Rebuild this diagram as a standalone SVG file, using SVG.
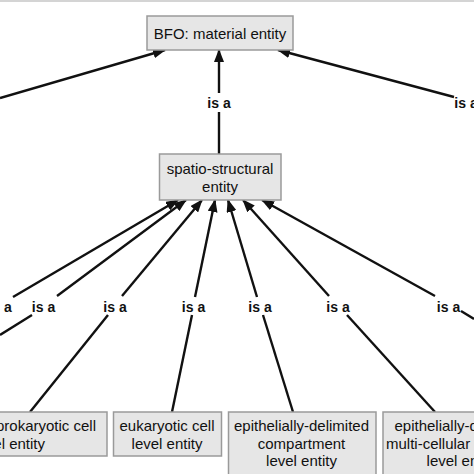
<svg xmlns="http://www.w3.org/2000/svg" width="474" height="474" viewBox="0 0 474 474">
<style>
.box{fill:#e6e6e6;stroke:#9a9a9a;stroke-width:1.5}
.t{font-family:"Liberation Sans",Arial,sans-serif;font-size:15px;fill:#111}
.lbl{font-family:"Liberation Sans",Arial,sans-serif;font-size:14px;font-weight:bold;fill:#111;text-anchor:middle}
.e{stroke:#111;stroke-width:2.4;fill:none}
.a{marker-end:url(#ah)}
</style>
<defs>
<marker id="ah" markerUnits="userSpaceOnUse" markerWidth="13" markerHeight="10" refX="12" refY="5" orient="auto">
<path d="M0,0 L13,5 L0,10 z" fill="#111"/>
</marker>
</defs>
<rect x="0" y="0" width="474" height="474" fill="#fff"/>
<rect x="0" y="0" width="474" height="2" fill="#d4d4d4"/>
<g id="connectors">
<line class="e a" x1="0" y1="98" x2="165" y2="50"/>
<line class="e a" x1="219" y1="93" x2="219" y2="50"/>
<line class="e" x1="219" y1="154" x2="219" y2="112"/>
<line class="e a" x1="454" y1="97" x2="278" y2="50"/>
<line class="e a" x1="13" y1="297" x2="178" y2="200"/>
<line class="e a" x1="57" y1="296" x2="186" y2="200"/>
<line class="e" x1="32" y1="315" x2="0" y2="335"/>
<line class="e a" x1="122" y1="296" x2="202" y2="200"/>
<line class="e" x1="108" y1="315" x2="30" y2="412"/>
<line class="e a" x1="195" y1="297" x2="215" y2="200"/>
<line class="e" x1="192" y1="315" x2="172" y2="412"/>
<line class="e a" x1="257" y1="297" x2="228" y2="200"/>
<line class="e" x1="263" y1="315" x2="293" y2="412"/>
<line class="e a" x1="329" y1="296" x2="243" y2="200"/>
<line class="e" x1="347" y1="315" x2="435" y2="412"/>
<line class="e a" x1="435" y1="296" x2="262" y2="200"/>
<line class="e" x1="461" y1="311" x2="474" y2="319"/>
<text class="lbl" x="219" y="108">is a</text>
<text class="lbl" x="466" y="108">is a</text>
<text class="lbl" x="0" y="312">is a</text>
<text class="lbl" x="43.5" y="312">is a</text>
<text class="lbl" x="115" y="312">is a</text>
<text class="lbl" x="193.5" y="312">is a</text>
<text class="lbl" x="260" y="312">is a</text>
<text class="lbl" x="338" y="312">is a</text>
<text class="lbl" x="448.5" y="312">is a</text>
</g>
<g id="bfo">
<rect class="box" x="147" y="16" width="146" height="34"/>
<text class="t" x="220" y="39" text-anchor="middle">BFO: material entity</text>
</g>
<g id="spatio">
<rect class="box" x="159.5" y="154" width="121.5" height="46"/>
<text class="t" x="220" y="174" text-anchor="middle">spatio-structural</text>
<text class="t" x="220" y="192" text-anchor="middle">entity</text>
</g>
<g id="prokaryotic">
<rect class="box" x="-10" y="412" width="117" height="44"/>
<text class="t" x="96" y="431" text-anchor="end">prokaryotic cell</text>
<text class="t" x="45" y="448.5" text-anchor="end">level entity</text>
</g>
<g id="eukaryotic">
<rect class="box" x="113.5" y="412" width="108" height="44"/>
<text class="t" x="167" y="431" text-anchor="middle">eukaryotic cell</text>
<text class="t" x="167" y="448.5" text-anchor="middle">level entity</text>
</g>
<g id="compartment">
<rect class="box" x="228.5" y="412" width="147.5" height="70"/>
<text class="t" x="301.5" y="431" text-anchor="middle">epithelially-delimited</text>
<text class="t" x="301.5" y="448.5" text-anchor="middle">compartment</text>
<text class="t" x="301.5" y="466" text-anchor="middle">level entity</text>
</g>
<g id="multicellular">
<rect class="box" x="383" y="412" width="110" height="70"/>
<text class="t" x="462" y="431" text-anchor="middle">epithelially-delimited</text>
<text class="t" x="386" y="448.5">multi-cellular</text>
<text class="t" x="462" y="466" text-anchor="middle">level entity</text>
</g>
</svg>
